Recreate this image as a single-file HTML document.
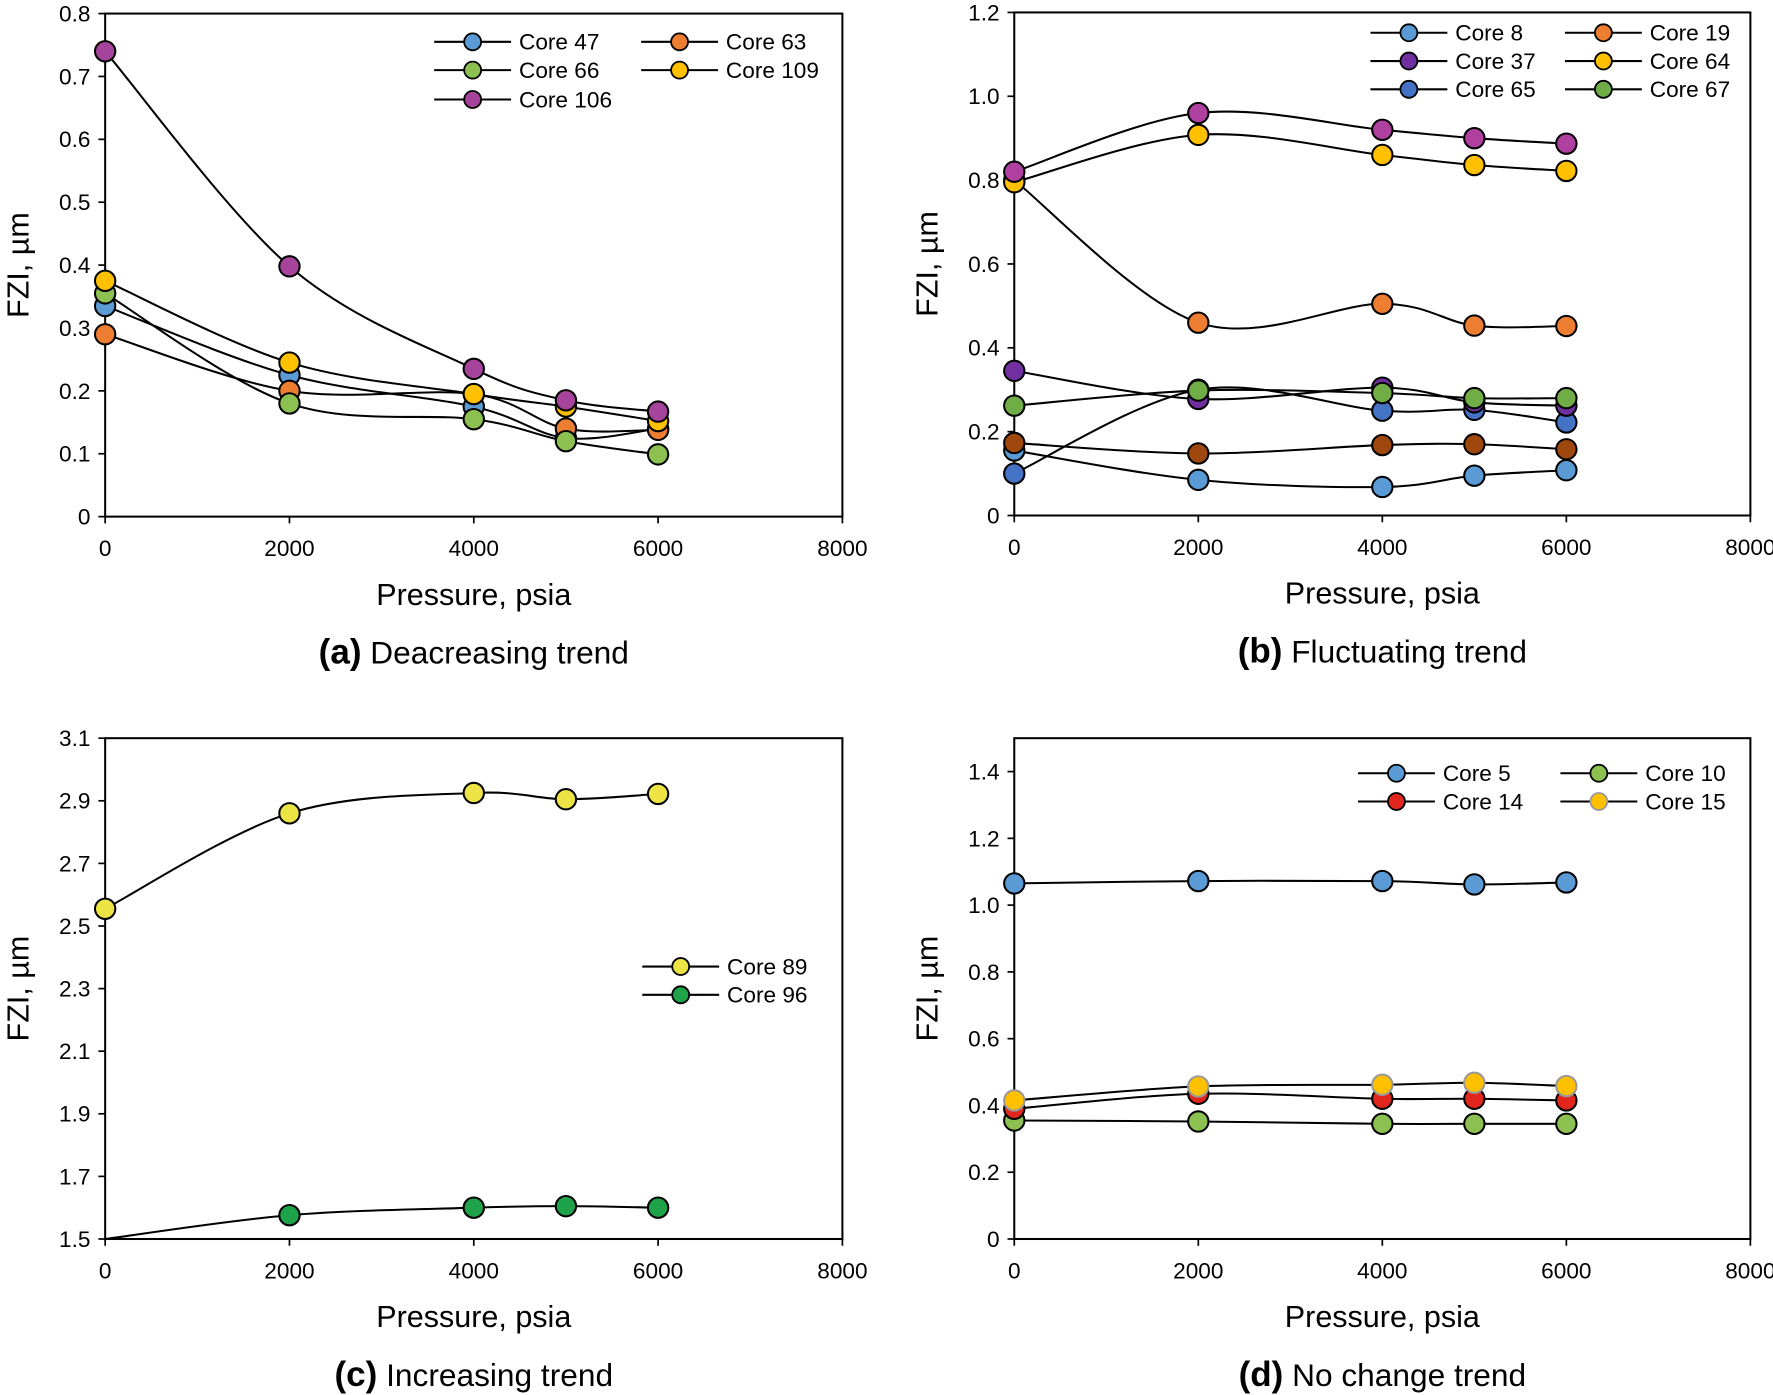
<!DOCTYPE html>
<html><head><meta charset="utf-8">
<style>
html,body{margin:0;padding:0;background:#fff;}
svg{display:block;}
text{font-family:"Liberation Sans",Arial,sans-serif;fill:#000;}
</style></head>
<body>
<svg id="s" xmlns="http://www.w3.org/2000/svg" width="1773" height="1395" viewBox="0 0 1568 1234" preserveAspectRatio="none"></svg>
<script>
const NS="http://www.w3.org/2000/svg";
const svg=document.getElementById('s');
function el(t,a,txt){const e=document.createElementNS(NS,t);for(const k in a)e.setAttribute(k,a[k]);if(txt!==undefined)e.textContent=txt;svg.appendChild(e);return e;}
const X=[0,2000,4000,5000,6000];
function panel(p){
  const {L,R,T,B,ymin,ymax,yticks,ydec,series,legend,cap1,cap2}=p;
  const sx=v=>L+(v/8000)*(R-L), sy=v=>B-(v-ymin)/(ymax-ymin)*(B-T);
  el('rect',{x:L,y:T,width:R-L,height:B-T,fill:'none',stroke:'#000','stroke-width':1.8});
  for(let i=0;i<=4;i++){const x=sx(i*2000);el('line',{x1:x,y1:B,x2:x,y2:B+6,stroke:'#000','stroke-width':1.5});
    el('text',{x:x,y:B+35,'font-size':20,'text-anchor':'middle'},String(i*2000));}
  yticks.forEach(v=>{const y=sy(v);el('line',{x1:L-6,y1:y,x2:L,y2:y,stroke:'#000','stroke-width':1.5});
    el('text',{x:L-13,y:y+7,'font-size':20,'text-anchor':'end'},v===0?'0':v.toFixed(ydec));});
  const my=(T+B)/2;
  el('text',{x:0,y:0,'font-size':27,'text-anchor':'middle',transform:`translate(${L-68},${my}) rotate(-90)`},'FZI, µm');
  const mx=(L+R)/2;
  el('text',{x:mx,y:B+78,'font-size':27,'text-anchor':'middle'},'Pressure, psia');
  const c=el('text',{x:mx,y:B+130,'font-size':28,'text-anchor':'middle'});
  const t1=document.createElementNS(NS,'tspan');t1.setAttribute('font-weight','bold');t1.setAttribute('font-size','31');t1.textContent=cap1;c.appendChild(t1);
  const t2=document.createElementNS(NS,'tspan');t2.textContent=' '+cap2;c.appendChild(t2);
  series.forEach(s=>{
    const pts=X.map((x,i)=>[sx(x),sy(s.y[i])]);
    let d=`M${pts[0][0]},${pts[0][1]}`;
    for(let i=0;i<pts.length-1;i++){
      const p0=pts[Math.max(0,i-1)],p1=pts[i],p2=pts[i+1],p3=pts[Math.min(pts.length-1,i+2)];
      const c1=[p1[0]+(p2[0]-p0[0])/6,p1[1]+(p2[1]-p0[1])/6];
      const c2=[p2[0]-(p3[0]-p1[0])/6,p2[1]-(p3[1]-p1[1])/6];
      d+=` C${c1[0]},${c1[1]} ${c2[0]},${c2[1]} ${p2[0]},${p2[1]}`;
    }
    el('path',{d:d,fill:'none',stroke:'#000','stroke-width':1.8});
  });
  series.forEach(s=>{
    X.forEach((x,i)=>{ if(s.skip&&s.skip.includes(i))return;
      el('circle',{cx:sx(x),cy:sy(s.y[i]),r:9,fill:s.c,stroke:s.sc||'#000','stroke-width':1.8});});
  });
  legend.forEach(g=>{
    el('line',{x1:g.x,y1:g.y,x2:g.x+68,y2:g.y,stroke:'#000','stroke-width':1.8});
    el('circle',{cx:g.x+34,cy:g.y,r:7.5,fill:g.c,stroke:g.sc||'#000','stroke-width':1.6});
    el('text',{x:g.x+75,y:g.y+7,'font-size':20},g.t);
  });
}
const blue='#5b9bd5',org='#ed7d31',grn='#8cc152',yel='#ffc000',pur='#a5449a';
panel({L:93,R:745,T:12,B:457,ymin:0,ymax:0.8,yticks:[0,0.1,0.2,0.3,0.4,0.5,0.6,0.7,0.8],ydec:1,cap1:'(a)',cap2:'Deacreasing trend',
 series:[
  {c:blue,y:[0.335,0.225,0.175,0.125,0.14]},
  {c:org,y:[0.29,0.2,0.195,0.14,0.138]},
  {c:grn,y:[0.355,0.18,0.155,0.12,0.099]},
  {c:yel,y:[0.375,0.245,0.195,0.175,0.152]},
  {c:pur,y:[0.74,0.398,0.235,0.185,0.167]}],
 legend:[{x:384,y:37,c:blue,t:'Core 47'},{x:567,y:37,c:org,t:'Core 63'},{x:384,y:62,c:grn,t:'Core 66'},{x:567,y:62,c:yel,t:'Core 109'},{x:384,y:88,c:pur,t:'Core 106'}]});
panel({L:897,R:1548,T:11,B:456,ymin:0,ymax:1.2,yticks:[0,0.2,0.4,0.6,0.8,1.0,1.2],ydec:1,cap1:'(b)',cap2:'Fluctuating trend',
 series:[
  {c:'#5b9bd5',y:[0.155,0.085,0.068,0.095,0.108]},
  {c:'#9e480e',y:[0.173,0.148,0.168,0.17,0.158]},
  {c:'#4472c4',y:[0.1,0.3,0.25,0.252,0.222]},
  {c:'#7030a0',y:[0.345,0.278,0.305,0.27,0.262]},
  {c:'#70ad47',y:[0.262,0.298,0.292,0.28,0.28]},
  {c:org,y:[0.8,0.46,0.505,0.453,0.452]},
  {c:yel,y:[0.795,0.908,0.86,0.836,0.822]},
  {c:'#b040a0',y:[0.82,0.96,0.92,0.9,0.887]}],
 legend:[{x:1212,y:29,c:'#5b9bd5',t:'Core 8'},{x:1384,y:29,c:org,t:'Core 19'},{x:1212,y:54,c:'#7030a0',t:'Core 37'},{x:1384,y:54,c:yel,t:'Core 64'},{x:1212,y:79,c:'#4472c4',t:'Core 65'},{x:1384,y:79,c:'#70ad47',t:'Core 67'}]});
panel({L:93,R:745,T:653,B:1096,ymin:1.5,ymax:3.1,yticks:[1.5,1.7,1.9,2.1,2.3,2.5,2.7,2.9,3.1],ydec:1,cap1:'(c)',cap2:'Increasing trend',
 series:[
  {c:'#ece345',y:[2.555,2.86,2.925,2.905,2.922]},
  {c:'#1fa34a',y:[1.5,1.576,1.6,1.605,1.6],skip:[0]}],
 legend:[{x:568,y:855,c:'#ece345',t:'Core 89'},{x:568,y:880,c:'#1fa34a',t:'Core 96'}]});
panel({L:897,R:1548,T:653,B:1096,ymin:0,ymax:1.5,yticks:[0,0.2,0.4,0.6,0.8,1.0,1.2,1.4],ydec:1,cap1:'(d)',cap2:'No change trend',
 series:[
  {c:blue,y:[1.065,1.072,1.072,1.062,1.068]},
  {c:grn,y:[0.355,0.352,0.345,0.345,0.345]},
  {c:'#e0261d',y:[0.39,0.435,0.42,0.42,0.415]},
  {c:yel,sc:'#999',y:[0.415,0.457,0.462,0.468,0.458]}],
 legend:[{x:1201,y:684,c:blue,t:'Core 5'},{x:1380,y:684,c:grn,t:'Core 10'},{x:1201,y:709,c:'#e0261d',t:'Core 14'},{x:1380,y:709,c:yel,sc:'#999',t:'Core 15'}]});
</script>
</body></html>
